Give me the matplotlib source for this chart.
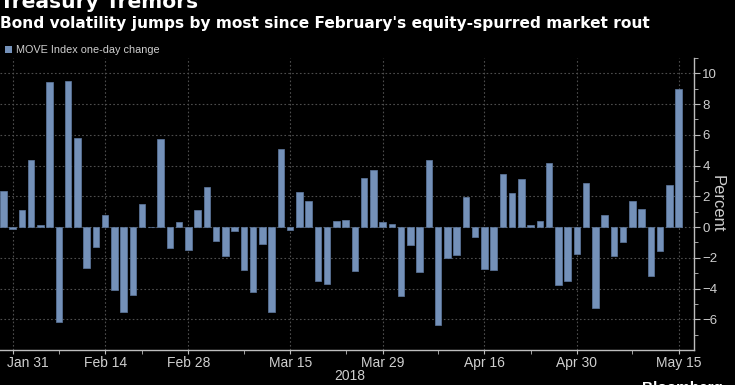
import matplotlib.pyplot as plt
from matplotlib.patches import Rectangle
from matplotlib.transforms import ScaledTranslation

# one-day change of the MOVE index, business days Jan 30 - May 15 2018
changes = [2.34, -0.10, 1.10, 4.34, 0.13, 9.43, -6.18, 9.48, 5.79, -2.67,
           -1.28, 0.80, -4.08, -5.51, -4.40, 1.52, -0.02, 5.70, -1.37, 0.35,
           -1.52, 1.13, 2.60, -0.91, -1.89, -0.24, -2.78, -4.25, -1.13, -5.53,
           5.05, -0.22, 2.28, 1.67, -3.49, -3.73, 0.39, 0.43, -2.88, 3.19,
           3.71, 0.35, 0.20, -4.47, -1.17, -2.90, 4.38, -6.36, -1.99, -1.82,
           1.97, -0.65, -2.73, -2.82, 3.47, 2.19, 3.14, 0.15, 0.39, 4.16,
           -3.75, -3.53, -1.78, 2.86, -5.27, 0.80, -1.91, -0.95, 1.67, 1.15,
           -3.17, -1.54, 2.75, 8.96]
tick_pos = [1, 11, 20, 31, 41, 52, 62, 73]
tick_labels = ["Jan 31", "Feb 14", "Feb 28", "Mar 15", "Mar 29", "Apr 16", "Apr 30", "May 15"]
minor_pos = [6, 15, 26, 37, 47, 57, 68]

bar_color = "#7491b9"
txt_color = "#cfcfcf"
tick_font = "Liberation Sans"

fig = plt.figure(figsize=(7.35, 3.85), dpi=100, facecolor="black")
ax = fig.add_axes([0.0, 0.0909, 0.9442, 0.7584], facecolor="black")

x = list(range(len(changes)))
ax.bar(x, changes, width=0.7, color=bar_color, edgecolor="#5f7aa0", linewidth=0.5, zorder=3)

ax.set_xlim(-0.36, 74.65)
ax.set_ylim(-8, 11)

# axes look
for s in ["left", "top"]:
    ax.spines[s].set_visible(False)
for s in ["right", "bottom"]:
    ax.spines[s].set_color("#bdbdbd")
    ax.spines[s].set_linewidth(1.0)

ax.yaxis.tick_right()
ax.yaxis.set_label_position("right")
ax.set_yticks(range(-6, 11, 2))
ax.set_yticks(range(-7, 12, 2), minor=True)
ax.set_xticks(tick_pos)
ax.set_xticklabels(tick_labels)
ax.set_xticks(minor_pos, minor=True)

ax.tick_params(axis="both", which="both", colors="#bdbdbd", direction="out")
ax.tick_params(axis="y", which="major", length=4, labelsize=9.5, labelcolor=txt_color, pad=2)
ax.tick_params(axis="y", which="minor", length=3)
ax.tick_params(axis="x", which="major", length=3, labelsize=10, labelcolor=txt_color, pad=1)
ax.tick_params(axis="x", which="minor", length=3)
for lab in ax.get_xticklabels() + ax.get_yticklabels():
    lab.set_family(tick_font)

# first date label is pushed right so it stays inside the picture
first = ax.get_xticklabels()[0]
first.set_transform(first.get_transform() + ScaledTranslation(15 / 100, 0, fig.dpi_scale_trans))

ax.grid(True, which="major", color="#4d4d4d", linestyle=(0, (1.5, 2)), linewidth=0.8, zorder=0)

ax.set_ylabel("Percent", rotation=270, color=txt_color, fontsize=12, family=tick_font, labelpad=5)
fig.text(350 / 735, 1 - 375.5 / 385, "2018", color=txt_color, fontsize=10, family=tick_font,
         va="center", ha="center")

# titles (the main title is cut off at the top, as in the original)
fig.text(0.0, 0.978, "Treasury Tremors", color="white", fontsize=14.6, fontweight="bold",
         family="DejaVu Sans", va="baseline", ha="left")
fig.text(0.0, 0.9265, "Bond volatility jumps by most since February's equity-spurred market rout",
         color="white", fontsize=11.05, fontweight="bold", family="DejaVu Sans", va="baseline", ha="left")

# legend
fig.patches.append(Rectangle((5 / 735, 1 - 52.7 / 385), 7 / 735, 7 / 385, transform=fig.transFigure,
                             facecolor=bar_color, edgecolor="none"))
fig.text(16 / 735, 1 - 52.7 / 385, "MOVE Index one-day change", color=txt_color, fontsize=7.8,
         family=tick_font, va="baseline", ha="left")

# source, cut off at the bottom
fig.text(642 / 735, 1 - 381 / 385, "Bloomberg", color="white", fontsize=11, fontweight="bold",
         family=tick_font, va="top", ha="left")

fig.savefig("out.png", dpi=100, facecolor="black")
